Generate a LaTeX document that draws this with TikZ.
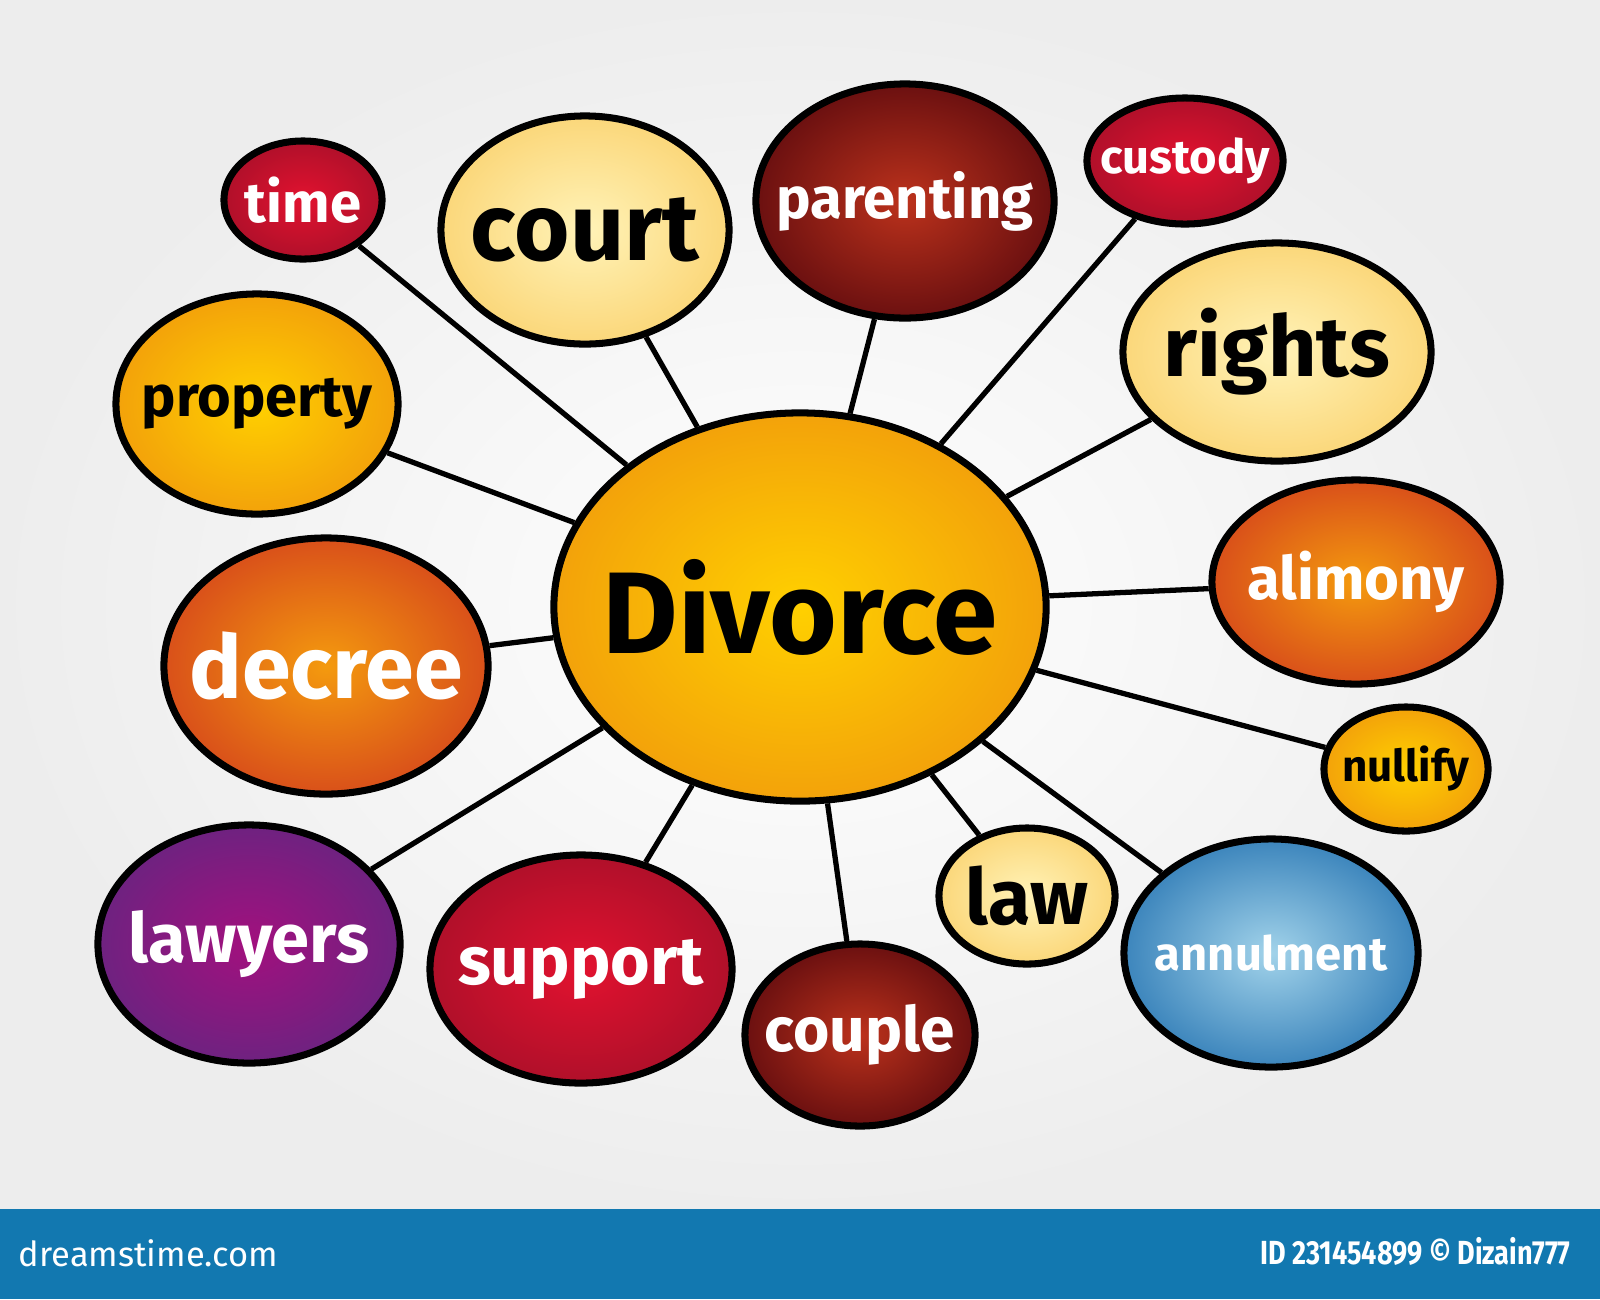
\documentclass[tikz,border=0pt]{standalone}
\usepackage{fontspec}
\setmainfont{Fira Sans}
\usetikzlibrary{shapes.geometric}

\definecolor{sunIn}{HTML}{FFD000}
\definecolor{sunOut}{HTML}{F3A20A}
\definecolor{paleIn}{HTML}{FFF3B8}
\definecolor{paleOut}{HTML}{FBD77A}
\definecolor{redIn}{HTML}{E2122F}
\definecolor{redOut}{HTML}{B0102A}
\definecolor{brownIn}{HTML}{BC321C}
\definecolor{brownOut}{HTML}{6B1010}
\definecolor{orangeIn}{HTML}{F49A0E}
\definecolor{orangeOut}{HTML}{D9501A}
\definecolor{purpleIn}{HTML}{A2107E}
\definecolor{purpleOut}{HTML}{6E2280}
\definecolor{blueIn}{HTML}{A2D3EA}
\definecolor{blueOut}{HTML}{3C85BC}
\definecolor{banner}{HTML}{1278B0}

\begin{document}
\begin{tikzpicture}[x=0.01cm, y=-0.01cm,
    bubble/.style={ellipse, draw=black, line width=2pt, inner sep=0pt},
    sun/.style={bubble, inner color=sunIn, outer color=sunOut},
    pale/.style={bubble, inner color=paleIn, outer color=paleOut},
    redb/.style={bubble, inner color=redIn, outer color=redOut},
    brown/.style={bubble, inner color=brownIn, outer color=brownOut},
    orangeb/.style={bubble, inner color=orangeIn, outer color=orangeOut},
    purpleb/.style={bubble, inner color=purpleIn, outer color=purpleOut},
    blueb/.style={bubble, inner color=blueIn, outer color=blueOut},
    word/.style={font=\fontsize{#1}{#1}\selectfont\bfseries, inner sep=0pt},
    link/.style={line width=1.5pt}]

    \useasboundingbox (0,0) rectangle (1600,1299);
    \shade[inner color=white, outer color=black!7] (0,0) rectangle (1600,1210);
    \fill[banner] (0,1209) rectangle (1600,1299);

    % hub
    \node[sun, minimum width=4.92cm, minimum height=3.88cm] (divorce) at (800,607) {};

    % top row
    \node[redb,    minimum width=1.58cm, minimum height=1.18cm] (time)      at (303,200)  {};
    \node[pale,    minimum width=2.88cm, minimum height=2.28cm] (court)     at (585,230)  {};
    \node[brown,   minimum width=2.98cm, minimum height=2.34cm] (parenting) at (905,201)  {};
    \node[redb,    minimum width=1.96cm, minimum height=1.26cm] (custody)   at (1185,161) {};

    % sides
    \node[sun,     minimum width=2.82cm, minimum height=2.20cm] (property)  at (257,404)  {};
    \node[pale,    minimum width=3.08cm, minimum height=2.18cm] (rights)    at (1277,352) {};
    \node[orangeb, minimum width=3.24cm, minimum height=2.56cm] (decree)    at (326,666)  {};
    \node[orangeb, minimum width=2.88cm, minimum height=2.04cm] (alimony)   at (1356,582) {};
    \node[sun,     minimum width=1.64cm, minimum height=1.24cm] (nullify)   at (1406,769) {};

    % bottom row
    \node[purpleb, minimum width=3.02cm, minimum height=2.38cm] (lawyers)   at (249,944)  {};
    \node[redb,    minimum width=3.02cm, minimum height=2.28cm] (support)   at (581,969)  {};
    \node[brown,   minimum width=2.30cm, minimum height=1.82cm] (couple)    at (860,1035) {};
    \node[pale,    minimum width=1.76cm, minimum height=1.36cm] (law)       at (1027,896) {};
    \node[blueb,   minimum width=2.94cm, minimum height=2.28cm] (annulment) at (1271,953) {};

    % spokes
    \foreach \leaf in {time, court, parenting, custody, property, rights, decree,
                       alimony, nullify, lawyers, support, couple, law, annulment}
        \draw[link] (divorce) -- (\leaf);

    % labels
    \node[word=33]            (divorce-t)   at (divorce.center)   {Divorce};
    \node[word=16, white]     (time-t)      at (time.center)      {time};
    \node[word=27]            (court-t)     at (court.center)     {court};
    \node[word=16.5, white]   (parenting-t) at (parenting.center) {parenting};
    \node[word=13.4, white]   (custody-t)   at (custody.center)   {custody};
    \node[word=16.4]          (property-t)  at (property.center)  {property};
    \node[word=24]            (rights-t)    at (rights.center)    {rights};
    \node[word=25, white]     (decree-t)    at (decree.center)    {decree};
    \node[word=17, white]     (alimony-t)   at (alimony.center)   {alimony};
    \node[word=12.5]          (nullify-t)   at (nullify.center)   {nullify};
    \node[word=19.5, white]   (lawyers-t)   at (lawyers.center)   {lawyers};
    \node[word=19.3, white]   (support-t)   at (support.center)   {support};
    \node[word=17.7, white]   (couple-t)    at (couple.center)    {couple};
    \node[word=22]            (law-t)       at (law.center)       {law};
    \node[word=13.4, white]   (annulment-t) at (annulment.center) {annulment};

    % footer
    \node[anchor=west, inner sep=0pt, white, font=\fontsize{9.8}{9.8}\selectfont] (site) at (18,1253) {dreamstime.com};
    \node[anchor=east, inner sep=0pt, white, font=\fontsize{9.5}{9.5}\selectfont\bfseries] (credit) at (1571,1251)
        {\scalebox{0.81}[1]{ID 231454899 © Dizain777}};

\end{tikzpicture}
\end{document}
